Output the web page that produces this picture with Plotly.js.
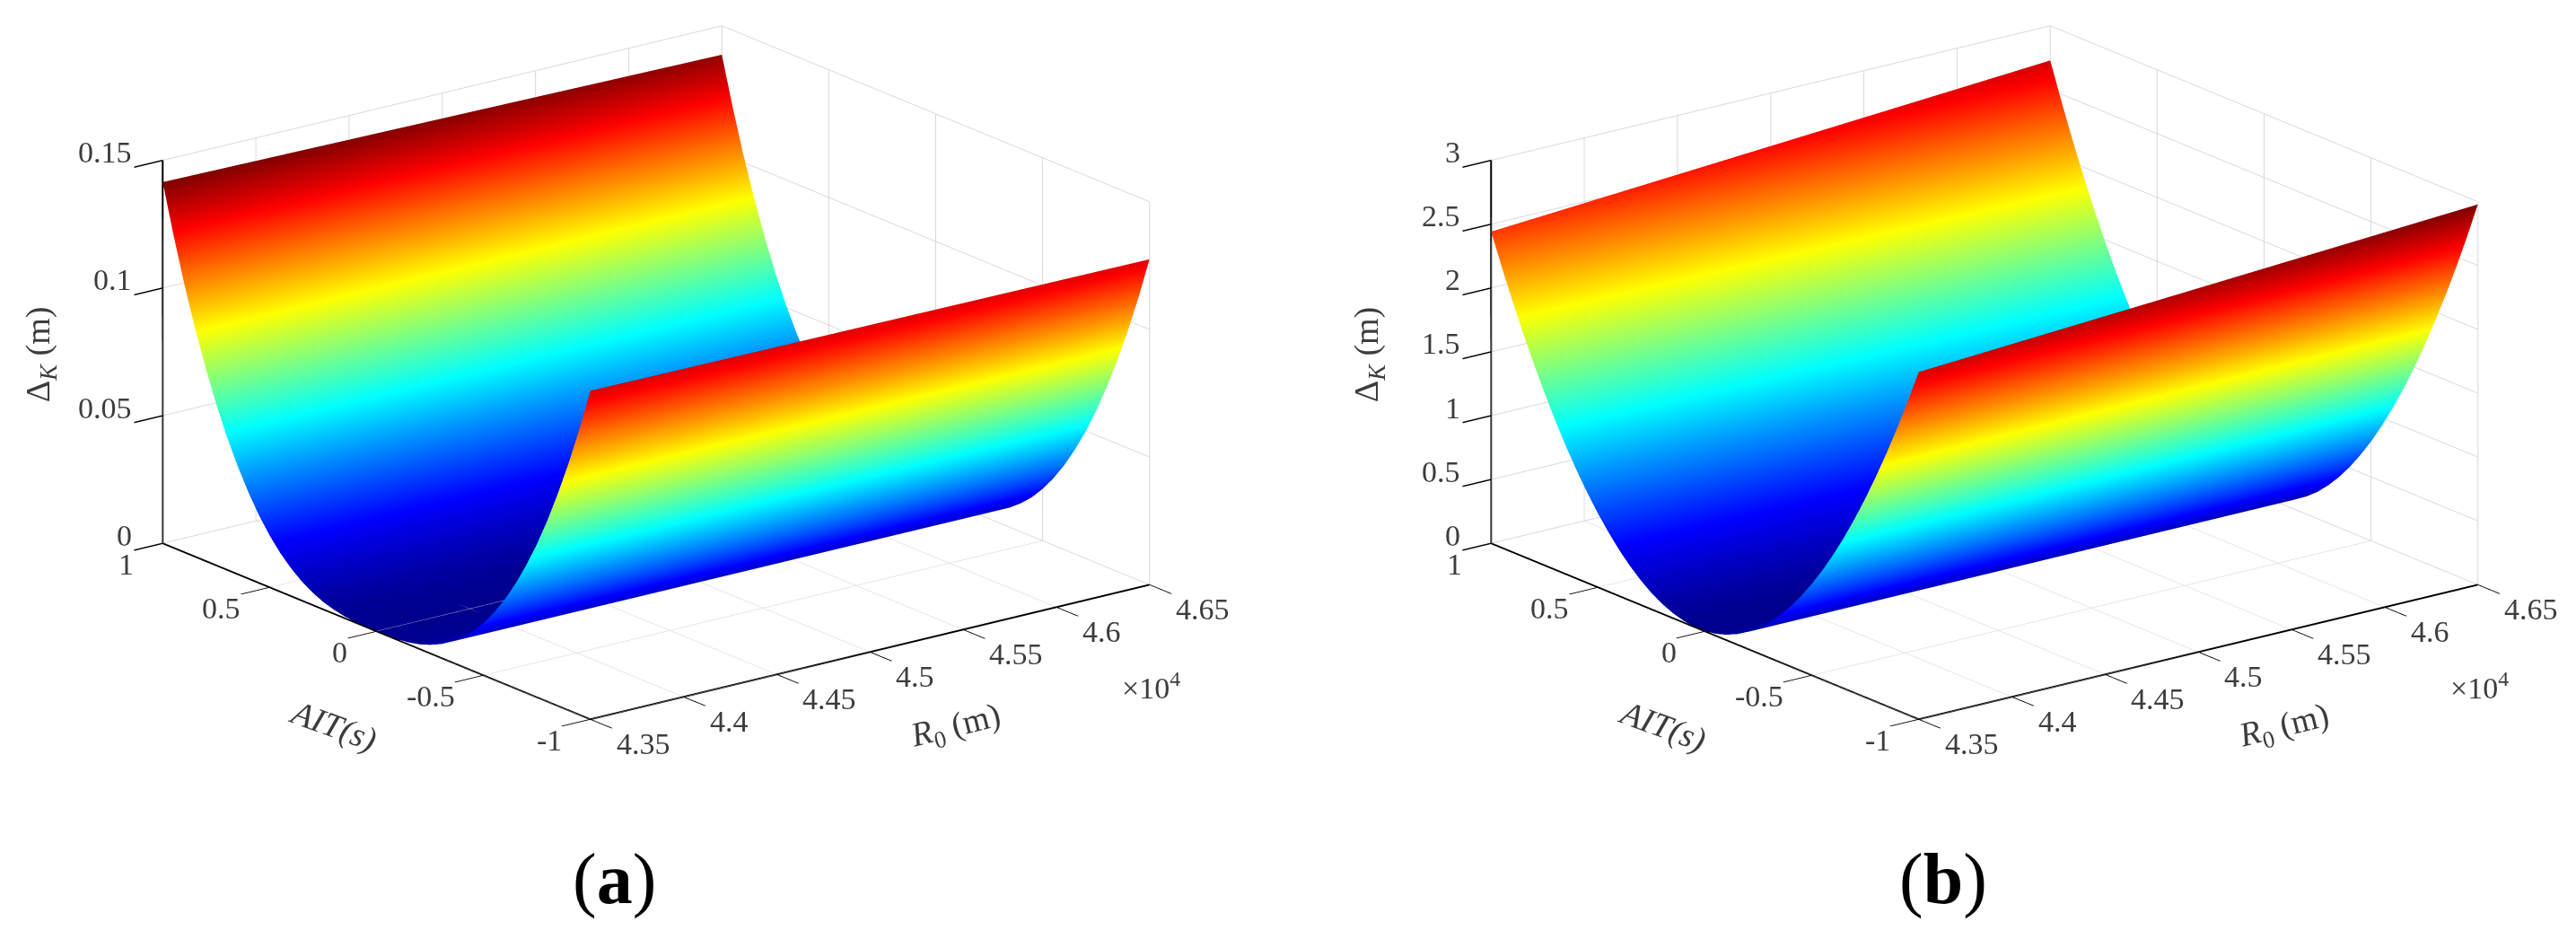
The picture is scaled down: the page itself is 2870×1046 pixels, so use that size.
<!DOCTYPE html>
<html><head><meta charset="utf-8">
<script src="https://cdn.plot.ly/plotly-3.0.1.min.js"></script>
<style>html,body{margin:0;padding:0;background:#fff}</style>
</head><body><div id="chart" style="width:2870px;height:1046px"></div>
<script>
const r0Values=[43500,46500];
const aitValues=[-1,-0.95,-0.9,-0.85,-0.8,-0.75,-0.7,-0.65,-0.6,-0.55,-0.5,-0.45,-0.4,-0.35,-0.3,-0.25,-0.2,-0.15,-0.1,-0.05,0,0.05,0.1,0.15,0.2,0.25,0.3,0.35,0.4,0.45,0.5,0.55,0.6,0.65,0.7,0.75,0.8,0.85,0.9,0.95,1];
const deltaA_r4350=[.1287,.1123,.0973,.0837,.0712,.0600,.0500,.0411,.0332,.0264,.0205,.0155,.0114,.0080,.0053,.0033,.0018,.0008,.0003,.00005,0,.00003,.0002,.0007,.0016,.0029,.0049,.0075,.0109,.0151,.0203,.0265,.0339,.0424,.0521,.0632,.0758,.0898,.1053,.1226,.1415];
const deltaA_r4650=[.1275,.1112,.0963,.0829,.0705,.0594,.0495,.0407,.0329,.0261,.0203,.0153,.0113,.0079,.0052,.0033,.0018,.0008,.0003,.00005,0,.00003,.0002,.0007,.0016,.0028,.0048,.0074,.0107,.0148,.0199,.0260,.0332,.0416,.0511,.0619,.0743,.0880,.1032,.1201,.1387];
const deltaB_r4350=[2.721,2.463,2.217,1.984,1.765,1.558,1.364,1.182,1.014,.859,.717,.587,.470,.367,.276,.198,.133,.081,.042,.015,.002,.001,.014,.039,.077,.128,.192,.269,.359,.462,.577,.706,.847,1.001,1.169,1.349,1.542,1.747,1.966,2.198,2.442];
const deltaB_r4650=[2.98,2.695,2.425,2.169,1.928,1.70,1.487,1.288,1.104,.933,.777,.636,.508,.395,.296,.211,.141,.084,.042,.015,.001,.002,.017,.047,.090,.148,.221,.307,.408,.523,.652,.795,.953,1.125,1.312,1.512,1.727,1.956,2.199,2.457,2.729];
const r0Ticks=[43500,44000,44500,45000,45500,46000,46500];
const r0TickText=['4.35','4.4','4.45','4.5','4.55','4.6','4.65'];
const aitTicks=[-1,-0.5,0,0.5,1];
const aitTickText=['-1','-0.5','0','0.5','1'];
const zTicksA=[0,0.05,0.1,0.15];
const zTickTextA=['0','0.05','0.1','0.15'];
const zTicksB=[0,0.5,1,1.5,2,2.5,3];
const zTickTextB=['0','0.5','1','1.5','2','2.5','3'];
const jet=[[0,'#00008f'],[0.125,'#0000ff'],[0.375,'#00ffff'],[0.625,'#ffff00'],[0.875,'#ff0000'],[1,'#800000']];
const FONT='Liberation Serif', TXT='#3c3c3c';

function surf(near,far,scene){
  return {type:'surface',scene:scene,x:r0Values,y:aitValues,
    z:aitValues.map((_,i)=>[near[i],far[i]]),
    colorscale:jet,showscale:false,hoverinfo:'skip',
    lighting:{ambient:1,diffuse:0,specular:0,fresnel:0,roughness:1},
    contours:{x:{show:false},y:{show:false},z:{show:false}}};
}
function axis(range,vals){
  return {range:range,tickmode:'array',tickvals:vals,showticklabels:false,title:{text:''},
    ticks:'outside',ticklen:40,tickwidth:3,tickcolor:'#000',
    showline:true,linecolor:'#000',linewidth:4,
    showgrid:true,gridcolor:'#d8d8d8',gridwidth:2,zeroline:false,showbackground:false,showspikes:false};
}
function ann(x,y,z,text,dx,dy,anchor,size,angle){
  return {x:x,y:y,z:z,text:text,showarrow:false,xanchor:anchor,yanchor:'middle',xshift:dx,yshift:-dy,
    textangle:angle||0,font:{family:FONT,size:size,color:TXT}};
}
function labels(zTicks,zText,zMax){
  const a=[];
  zTicks.forEach((v,i)=>a.push(ann(43500,1,v,zText[i],-32,-9,'right',34)));
  aitTicks.forEach((v,i)=>a.push(ann(43500,v,0,aitTickText[i],-30,23,'right',34)));
  r0Ticks.forEach((v,i)=>a.push(ann(v,-1,0,r0TickText[i],27,27,'left',34)));
  a.push(ann(45000,-1,0,'<i>R</i><sub>0</sub> (m)',96,84,'center',38,-14));
  a.push(ann(43500,0,0,'<i>AIT(s)</i>',-48,105,'center',38,20));
  a.push(ann(43500,1,zMax/2,'Δ<sub><i>K</i></sub> (m)',-136,3,'center',38,-90));
  a.push(ann(46500,-1,0,'×10<sup>4</sup>',2,113,'center',34));
  return a;
}
const eye={x:-0.5766,y:-0.7540,z:0.3146};
const EYE_SCALE=1.6, BOX=1.89;
function scene(dom,zr,zt,ztxt){
  return {domain:{x:dom,y:[0.2065,1]},
    xaxis:axis([43500,46500],r0Ticks),yaxis:axis([-1,1],aitTicks),zaxis:axis(zr,zt),
    aspectmode:'manual',aspectratio:{x:BOX,y:BOX,z:0.573*BOX},
    camera:{eye:{x:eye.x*EYE_SCALE,y:eye.y*EYE_SCALE,z:eye.z*EYE_SCALE},up:{x:0,y:0,z:1},center:{x:0,y:0,z:0},projection:{type:'orthographic'}},
    annotations:labels(zt,ztxt,zr[1])};
}
const layout={width:2870,height:1046,margin:{l:0,r:0,t:0,b:0},paper_bgcolor:'#fff',showlegend:false,
  scene:scene([0,0.5094],[0,0.15],zTicksA,zTickTextA),
  scene2:scene([0.5408,1],[0,3],zTicksB,zTickTextB),
  annotations:[
    {xref:'paper',yref:'paper',x:684/2870,y:1-979/1046,text:'(<b>a</b>)',showarrow:false,xanchor:'center',yanchor:'middle',font:{family:FONT,size:80,color:'#000'}},
    {xref:'paper',yref:'paper',x:2165/2870,y:1-979/1046,text:'(<b>b</b>)',showarrow:false,xanchor:'center',yanchor:'middle',font:{family:FONT,size:80,color:'#000'}}
  ]};
Plotly.newPlot('chart',[surf(deltaA_r4350,deltaA_r4650,'scene'),surf(deltaB_r4350,deltaB_r4650,'scene2')],layout,{displayModeBar:false});
</script></body></html>
